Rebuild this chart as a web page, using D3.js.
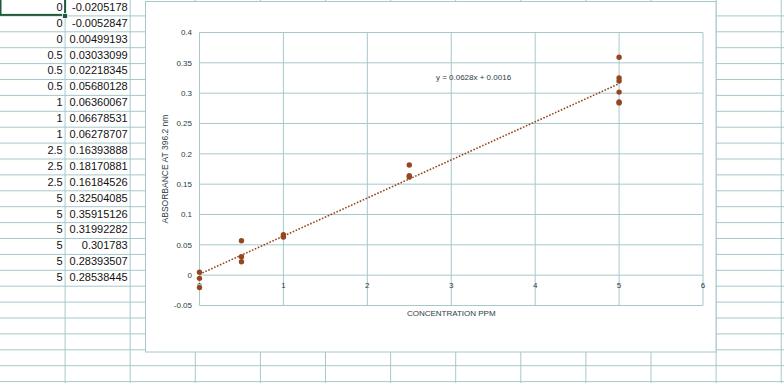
<!DOCTYPE html>
<html>
<head>
<meta charset="utf-8">
<script src="https://cdn.jsdelivr.net/npm/d3@7"></script>
<style>
  html, body { margin: 0; padding: 0; background: #fff; }
  svg { display: block; }
</style>
</head>
<body>
<svg id="chart" width="784" height="383"></svg>
<script>
// ---- data ----
const concentration = [0, 0, 0, 0.5, 0.5, 0.5, 1, 1, 1, 2.5, 2.5, 2.5, 5, 5, 5, 5, 5, 5];
const absorbance = [-0.0205178, -0.0052847, 0.00499193, 0.03033099, 0.02218345, 0.05680128,
  0.06360067, 0.06678531, 0.06278707, 0.16393888, 0.18170881, 0.16184526,
  0.32504085, 0.35915126, 0.31992282, 0.301783, 0.28393507, 0.28538445];
const xTicks = [0, 1, 2, 3, 4, 5, 6];
const yTicks = [-0.05, 0, 0.05, 0.1, 0.15, 0.2, 0.25, 0.3, 0.35, 0.4];
const trendSlope = 0.0628;
const trendIntercept = 0.0016;
const trendLabel = "y = 0.0628x + 0.0016";
const xTitle = "CONCENTRATION PPM";
const yTitle = "ABSORBANCE AT 396.2 nm";

// ---- layout ----
const W = 784, H = 383;
const gridColor = "#a6c8cb";
const markColor = "#96461e";
const chartText = "#2b3d45";
const colW = 65.1, rowH = 15.9;
const FONT = "Liberation Sans, Arial, sans-serif";

const svg = d3.select("#chart");

// spreadsheet grid
const sheet = svg.append("g");
for (let k = 1; k * colW < W + 2; k++) {
  sheet.append("line").attr("x1", k * colW).attr("x2", k * colW)
    .attr("y1", 0).attr("y2", H).attr("stroke", gridColor).attr("stroke-width", 1);
}
for (let k = 1; k * rowH < H + 2; k++) {
  sheet.append("line").attr("x1", 0).attr("x2", W)
    .attr("y1", k * rowH).attr("y2", k * rowH).attr("stroke", gridColor).attr("stroke-width", 1);
}
// cell text
const cells = sheet.append("g").attr("font-family", FONT)
  .attr("font-size", 11).attr("fill", "#111").attr("text-anchor", "end");
concentration.forEach((c, i) => {
  cells.append("text").attr("x", 62.7).attr("y", i * rowH + 10.8).text(String(c));
  cells.append("text").attr("x", 127.7).attr("y", i * rowH + 10.8).text(String(absorbance[i]));
});
// selected cell A1
sheet.append("rect").attr("x", 0.5).attr("y", -1).attr("width", colW - 0.5).attr("height", rowH)
  .attr("fill", "none").attr("stroke", "#1d5a3a").attr("stroke-width", 2);
sheet.append("rect").attr("x", colW - 2.5).attr("y", rowH - 2.5).attr("width", 5).attr("height", 5)
  .attr("fill", "#1d5a3a").attr("stroke", "#fff").attr("stroke-width", 0.8);

// chart box
const box = { x: 145.5, y: 1.5, w: 570.5, h: 350.5 };
svg.append("rect").attr("x", box.x).attr("y", box.y).attr("width", box.w).attr("height", box.h)
  .attr("fill", "#fff").attr("stroke", gridColor).attr("stroke-width", 1);

const x = d3.scaleLinear().domain([0, 6]).range([199.5, 703]);
const y = d3.scaleLinear().domain([-0.05, 0.4]).range([305.5, 32.5]);

const g = svg.append("g");
// gridlines
g.selectAll("line.hg").data(yTicks).join("line")
  .attr("x1", x(0)).attr("x2", x(6)).attr("y1", d => y(d)).attr("y2", d => y(d))
  .attr("stroke", gridColor).attr("stroke-width", 1);
g.selectAll("line.vg").data(xTicks).join("line")
  .attr("x1", d => x(d)).attr("x2", d => x(d)).attr("y1", y(0.4)).attr("y2", y(-0.05))
  .attr("stroke", gridColor).attr("stroke-width", 1);

// tick labels
const fmtY = d => String(+d.toFixed(2));
g.selectAll("text.yt").data(yTicks).join("text")
  .attr("x", 192).attr("y", d => y(d)).attr("dy", "0.35em")
  .attr("text-anchor", "end").attr("font-family", FONT)
  .attr("font-size", 8).attr("fill", chartText).text(fmtY);
g.selectAll("text.xt").data(xTicks).join("text")
  .attr("x", d => x(d)).attr("y", y(0) + 12.5)
  .attr("text-anchor", "middle").attr("font-family", FONT)
  .attr("font-size", 8).attr("fill", chartText).text(d => d);

// axis titles
g.append("text").attr("x", x(3)).attr("y", 315.5).attr("text-anchor", "middle")
  .attr("font-family", FONT).attr("font-size", 8)
  .attr("fill", chartText).text(xTitle);
g.append("text").attr("transform", `translate(168,${(y(0.4) + y(-0.05)) / 2}) rotate(-90)`)
  .attr("text-anchor", "middle").attr("font-family", FONT)
  .attr("font-size", 8.5).attr("fill", chartText).text(yTitle);

// trendline
const xs = d3.extent(concentration);
g.append("line")
  .attr("x1", x(xs[0])).attr("y1", y(trendSlope * xs[0] + trendIntercept))
  .attr("x2", x(xs[1])).attr("y2", y(trendSlope * xs[1] + trendIntercept))
  .attr("stroke", markColor).attr("stroke-width", 1.6).attr("stroke-dasharray", "1.6,1.6");
g.append("text").attr("x", 473.5).attr("y", 77.5).attr("dy", "0.35em").attr("text-anchor", "middle")
  .attr("font-family", FONT).attr("font-size", 8)
  .attr("fill", chartText).text(trendLabel);

// points
g.selectAll("circle").data(concentration).join("circle")
  .attr("cx", d => x(d)).attr("cy", (d, i) => y(absorbance[i])).attr("r", 2.7)
  .attr("fill", markColor);
</script>
</body>
</html>
